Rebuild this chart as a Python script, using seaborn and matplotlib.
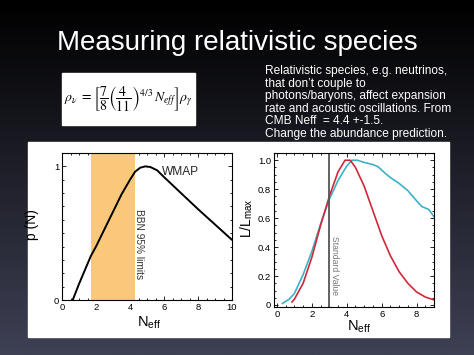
import matplotlib
matplotlib.use("Agg")
import matplotlib.pyplot as plt
import matplotlib.patches as mpatches
import matplotlib.ticker as mticker
import seaborn as sns
import numpy as np

# WMAP probability curve (left panel)
wmap_x = [0.63, 1.0, 1.7, 2.0, 2.5, 3.0, 3.5, 4.0, 4.3, 4.6, 4.9, 5.2, 5.6, 6.0, 6.5, 7.0, 8.0, 9.0, 10.0]
wmap_y = [0.0, 0.12, 0.33, 0.40, 0.53, 0.66, 0.79, 0.90, 0.96, 0.99, 1.0, 0.995, 0.97, 0.92, 0.86, 0.80, 0.68, 0.565, 0.45]
bbn_band = (1.7, 4.3)

# likelihood curves (right panel)
cyan_x = [0.3, 0.7, 1.0, 1.5, 2.0, 2.5, 3.0, 3.5, 4.0, 4.3, 4.6, 5.0, 5.5, 5.8, 6.2, 6.5, 7.0, 7.5, 8.0, 8.3, 8.7, 9.0]
cyan_y = [0.01, 0.04, 0.08, 0.21, 0.37, 0.56, 0.73, 0.86, 0.96, 1.0, 1.0, 0.985, 0.97, 0.955, 0.91, 0.88, 0.84, 0.79, 0.72, 0.68, 0.66, 0.61]
red_x = [0.85, 1.0, 1.5, 2.0, 2.5, 3.0, 3.5, 3.9, 4.2, 4.5, 5.0, 5.5, 6.0, 6.5, 7.0, 7.5, 8.0, 8.5, 9.0]
red_y = [0.02, 0.04, 0.15, 0.33, 0.55, 0.75, 0.92, 1.0, 1.0, 0.95, 0.82, 0.65, 0.48, 0.34, 0.23, 0.15, 0.09, 0.055, 0.035]
standard_value = 3.0

title = "Measuring relativistic species"
blurb = ("Relativistic species, e.g. neutrinos,\nthat don\u2019t couple to\n"
         "photons/baryons, affect expansion\nrate and acoustic oscillations. From\n"
         "CMB Neff  = 4.4 +-1.5.\nChange the abundance prediction.")

sns.set_style("ticks")
plt.rcParams['font.family'] = ['Liberation Sans', 'DejaVu Sans']
plt.rcParams['mathtext.fontset'] = 'stix'

W, H = 474, 355
fig = plt.figure(figsize=(W / 100, H / 100), dpi=100)

# slide background
bg = fig.add_axes([0, 0, 1, 1], zorder=-5)
grad = np.linspace(0, 1, 256)[:, None, None] * np.array([62, 64, 84]) / 255
bg.imshow(grad, extent=[0, W, H, 0], aspect='auto')
bg.add_patch(mpatches.Rectangle((28, 142), 421, 195, color='white'))
bg.add_patch(mpatches.Rectangle((62, 73), 133, 52, color='white'))
bg.set_xlim(0, W)
bg.set_ylim(H, 0)
bg.axis('off')

fig.text(0.5, 1 - 50 / H, title, color='white', fontsize=20, ha='center', va='baseline')
fig.text(265 / W, 1 - 65 / H, blurb, color='white', fontsize=8.6, ha='left', va='top', linespacing=1.06)
fig.text(128 / W, 1 - 99 / H,
         r'$\rho_\nu\ = \left[\dfrac{7}{8}\left(\dfrac{4}{11}\right)^{4/3}\, N_{eff}\right]\rho_\gamma$',
         color='black', fontsize=9.9, ha='center', va='center')


def style(ax):
    ax.tick_params(which='both', direction='in', top=True, right=True, labelsize=6.8,
                   colors='black', width=0.6, pad=2)
    ax.tick_params(which='major', length=3)
    ax.tick_params(which='minor', length=1.5)
    for s in ax.spines.values():
        s.set_visible(True)
        s.set_linewidth(0.8)
        s.set_color('black')
    ax.set_facecolor('white')


# left panel
ax1 = fig.add_axes([62 / W, 1 - 300 / H, 170 / W, 147 / H], zorder=1)
ax1.axvspan(*bbn_band, color='#f9c87a', lw=0)
sns.lineplot(x=wmap_x, y=wmap_y, color='black', lw=1.4, ax=ax1)
ax1.set_xlim(0, 10)
ax1.set_ylim(0, 1.1)
ax1.set_xticks([0, 2, 4, 6, 8, 10])
ax1.set_yticks([0, 1])
ax1.xaxis.set_minor_locator(mticker.MultipleLocator(0.5))
ax1.yaxis.set_minor_locator(mticker.MultipleLocator(0.1))
style(ax1)
ax1.text(7.0, 0.955, "WMAP", fontsize=8.6, ha='center', va='center')
ax1.text(4.55, 0.42, "BBN 95% limits", fontsize=7.3, rotation=-90, ha='center', va='center', color='#333333')
ax1.set_ylabel("")
ax1.set_xlabel("")
ax1.text(-0.176, 0.51, "p (N)", fontsize=10, rotation=90, ha='center', va='center',
         transform=ax1.transAxes, clip_on=False, color='black')
ax1.text(0.51, -0.155, r'N$_\mathregular{eff}$', fontsize=10.5, ha='center', va='center',
         transform=ax1.transAxes, clip_on=False, color='black')

# right panel
ax2 = fig.add_axes([274 / W, 1 - 307 / H, 160 / W, 154 / H], zorder=1)
sns.lineplot(x=cyan_x, y=cyan_y, color='#3bb2c8', lw=1.2, ax=ax2)
sns.lineplot(x=red_x, y=red_y, color='#d0283a', lw=1.2, ax=ax2)
ax2.axvline(standard_value, color='#555555', lw=1.3)
ax2.text(3.28, 0.27, "Standard Value", fontsize=6.2, rotation=-90, ha='center', va='center', color='#777777')
ax2.set_xlim(-0.17, 9.0)
ax2.set_ylim(-0.014, 1.05)
ax2.set_xticks([0, 2, 4, 6, 8])
ax2.set_yticks([0, 0.2, 0.4, 0.6, 0.8, 1.0])
ax2.set_yticklabels(["0", "0.2", "0.4", "0.6", "0.8", "1.0"])
ax2.xaxis.set_minor_locator(mticker.MultipleLocator(0.5))
ax2.yaxis.set_minor_locator(mticker.MultipleLocator(0.05))
style(ax2)
ax2.set_ylabel("")
ax2.set_xlabel("")
ax2.text(-0.17, 0.58, r'L/L$_\mathregular{max}$', fontsize=10, rotation=90, ha='center', va='center',
         transform=ax2.transAxes, clip_on=False, color='black')
ax2.text(0.53, -0.13, r'N$_\mathregular{eff}$', fontsize=10.5, ha='center', va='center',
         transform=ax2.transAxes, clip_on=False, color='black')

fig.savefig("out.png", dpi=100)
